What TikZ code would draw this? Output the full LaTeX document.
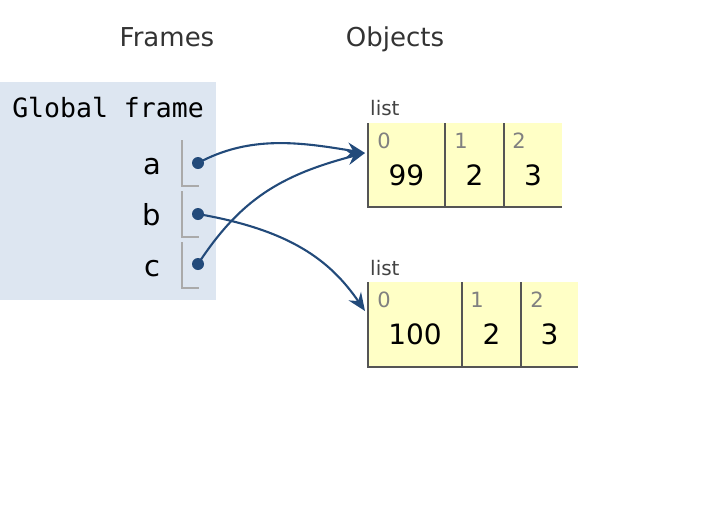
\documentclass[tikz,border=0pt]{standalone}
\usepackage{fontspec}
\setmainfont{DejaVu Sans}
\setmonofont{DejaVu Sans Mono}
\usetikzlibrary{arrows.meta}
\definecolor{framebg}{HTML}{DDE6F1}
\definecolor{cellbg}{HTML}{FFFFC6}
\definecolor{boxline}{HTML}{555555}
\definecolor{brk}{HTML}{AAAAAA}
\definecolor{ptr}{HTML}{224A7A}
\definecolor{txt}{HTML}{333333}
\definecolor{idx}{HTML}{808080}
\tikzset{
  heading/.style={font=\fontsize{26}{30}\selectfont, text=txt, anchor=base, inner sep=0},
  frametitle/.style={font=\ttfamily\fontsize{26.5}{30}\selectfont, text=black, anchor=base, inner sep=0},
  varname/.style={font=\fontsize{29}{34}\selectfont, text=black, anchor=base, inner sep=0},
  listlabel/.style={font=\fontsize{20}{24}\selectfont, text=txt!80!gray, anchor=base west, inner sep=0},
  idxlabel/.style={font=\fontsize{21}{24}\selectfont, text=idx, anchor=base, inner sep=0},
  vallabel/.style={font=\fontsize{28}{32}\selectfont, text=black, anchor=base, inner sep=0},
  bracket/.style={draw=brk, line width=2.4pt},
  cellline/.style={draw=boxline, line width=2.4pt},
  dotpt/.style={circle, fill=ptr, inner sep=0, minimum size=12pt},
  pointer/.style={draw=ptr, line width=2.1pt, -{Stealth[length=18pt, width=15pt, inset=6pt]}},
}
\begin{document}
\begin{tikzpicture}[x=1pt, y=-1pt]
\useasboundingbox (0,0) rectangle (728,504);
% headings
\node[heading] (hf) at (167,46) {Frames};
\node[heading] (ho) at (395,46) {Objects};
% frame
\fill[framebg] (0,82) rectangle (216,300);
\node[frametitle] (gf) at (108,117) {Global frame};
\node[varname] (va) at (152,174) {a};
\node[varname] (vb) at (152,225) {b};
\node[varname] (vc) at (152,276) {c};
\draw[bracket] (182,140) -- (182,186) -- (199,186);
\draw[bracket] (182,191) -- (182,237) -- (199,237);
\draw[bracket] (182,242) -- (182,288) -- (199,288);
\node[dotpt] (da) at (198,163) {};
\node[dotpt] (db) at (198,214) {};
\node[dotpt] (dc) at (198,264) {};
% list 1
\node[listlabel] (l1) at (370,115) {list};
\fill[cellbg] (368,123) rectangle (562,207);
\draw[cellline] (368,123) -- (368,207) -- (562,207);
\draw[cellline] (445,123) -- (445,207);
\draw[cellline] (504,123) -- (504,207);
\coordinate (t1) at (365,153);
\node[idxlabel] (l1i0) at (384,148) {0};
\node[idxlabel] (l1i1) at (461,148) {1};
\node[idxlabel] (l1i2) at (519,148) {2};
\node[vallabel] (l1v0) at (406.5,185) {99};
\node[vallabel] (l1v1) at (474.5,185) {2};
\node[vallabel] (l1v2) at (533,185) {3};
% list 2
\node[listlabel] (l2) at (370,275) {list};
\fill[cellbg] (368,282) rectangle (578,367);
\draw[cellline] (368,282) -- (368,367) -- (578,367);
\draw[cellline] (462,282) -- (462,367);
\draw[cellline] (521,282) -- (521,367);
\coordinate (t2) at (365,311);
\node[idxlabel] (l2i0) at (384,307) {0};
\node[idxlabel] (l2i1) at (477,307) {1};
\node[idxlabel] (l2i2) at (537,307) {2};
\node[vallabel] (l2v0) at (415,344) {100};
\node[vallabel] (l2v1) at (491.5,344) {2};
\node[vallabel] (l2v2) at (549.5,344) {3};
% pointers
\draw[pointer] (da.center) .. controls (250,135) and (300,142) .. (t1);
\draw[pointer] (dc.center) .. controls (240,200) and (280,175) .. (t1);
\draw[pointer] (db.center) .. controls (290,230) and (330,260) .. (t2);
\end{tikzpicture}
\end{document}
